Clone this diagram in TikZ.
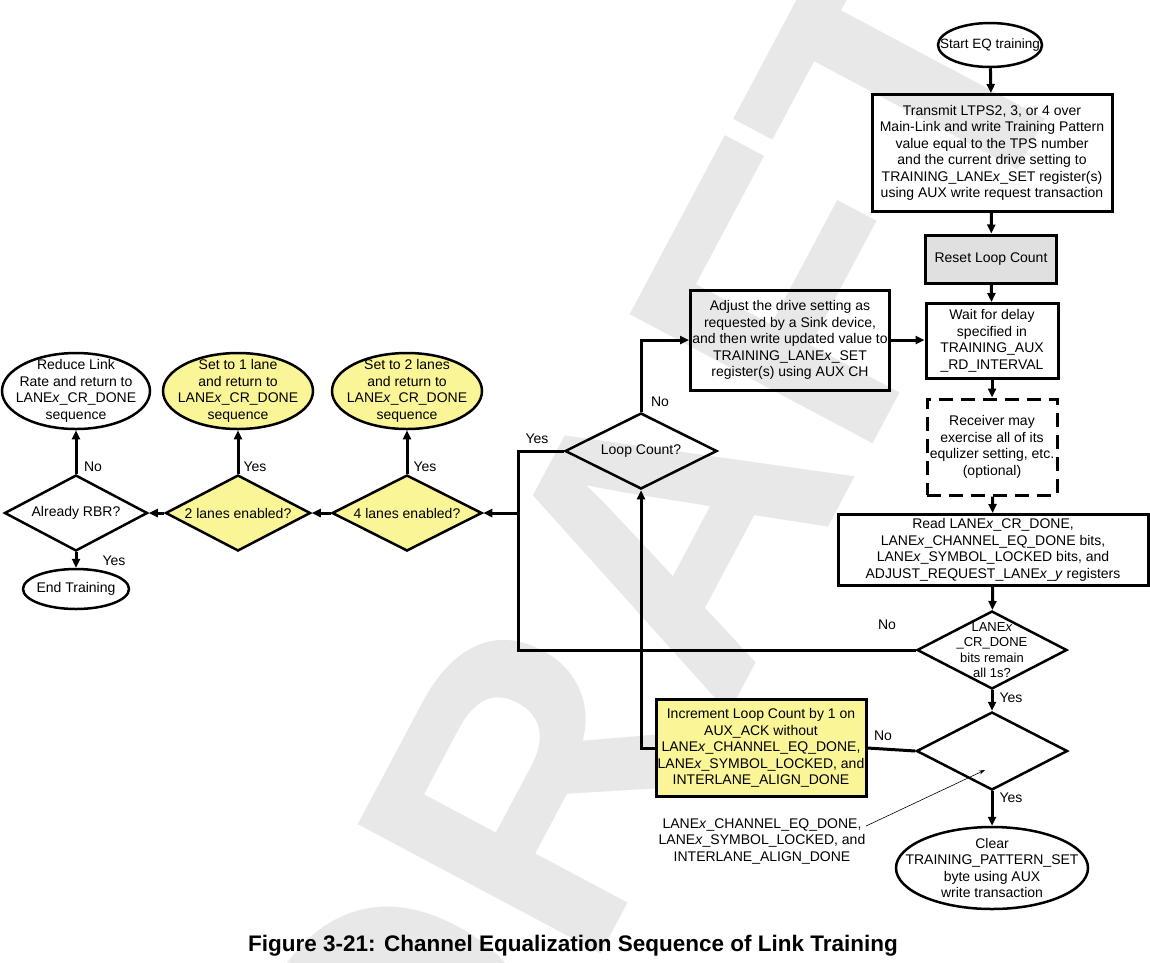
\documentclass[tikz,border=0pt]{standalone}
\usepackage{fontspec}
\setmainfont{Liberation Sans}
\usetikzlibrary{shapes.geometric,arrows.meta,calc}
\definecolor{yel}{RGB}{250,245,150}
\begin{document}
\begin{tikzpicture}[x=1pt,y=-1pt,
  every node/.style={font=\fontsize{14}{16.5}\selectfont, align=center, inner sep=0pt},
  every label/.style={font=\fontsize{14}{16.5}\selectfont, align=center, inner sep=0pt},
  ell/.style={draw, ellipse, line width=2.5pt},
  dia/.style={draw, diamond, line width=2.5pt},
  con/.style={line width=3pt, -{Triangle[length=9pt,width=8pt]}},
  ln/.style={line width=3pt},
  lab/.style={font=\fontsize{14}{16}\selectfont}]
\useasboundingbox (0,0) rectangle (1150,962);
% watermark
\node[text=black!9, rotate=62, font=\fontsize{400}{400}\bfseries\selectfont] (wm) at (650,570) {DRAFT};
% nodes
\node[ell, minimum width=104, minimum height=44, label={[font=\fontsize{13.5}{16}\selectfont]center:{Start EQ training}}] (start) at (990,45) {};
\node[draw, line width=3pt, minimum width=240, minimum height=117] (tx) at (992,153) {Transmit LTPS2, 3, or 4 over\\Main-Link and write Training Pattern\\value equal to the TPS number\\and the current drive setting to\\TRAINING\_LANE\textit{x}\_SET register(s)\\using AUX write request transaction};
\node[draw, line width=3pt, fill=black!12, minimum width=131, minimum height=48] (reset) at (991,259) {Reset Loop Count};
\node[draw, line width=3pt, minimum width=132, minimum height=75] (wait) at (992,341) {Wait for delay\\specified in\\TRAINING\_AUX\\\_RD\_INTERVAL};
\node[draw, line width=3pt, dash pattern=on 14pt off 8pt, minimum width=130, minimum height=96] (recv) at (992,447) {Receiver may\\exercise all of its\\equlizer setting, etc.\\(optional)};
\node[draw, line width=3pt, minimum width=310, minimum height=71] (read) at (993,550) {Read LANE\textit{x}\_CR\_DONE,\\LANE\textit{x}\_CHANNEL\_EQ\_DONE bits,\\LANE\textit{x}\_SYMBOL\_LOCKED bits, and\\ADJUST\_REQUEST\_LANE\textit{x}\_\textit{y} registers};
\node[dia, minimum width=150, minimum height=78, label={[font=\fontsize{13}{15.5}\selectfont]center:{LANE\textit{x}\\\_CR\_DONE\\bits remain\\all 1s?}}] (d1) at (992,650) {};
\node[dia, minimum width=151, minimum height=78] (d2) at (992,751) {};
\node[ell, minimum width=192, minimum height=82, label=center:{Clear\\TRAINING\_PATTERN\_SET\\byte using AUX\\write transaction}] (clear) at (992,868) {};
\node[draw, line width=3pt, minimum width=199, minimum height=100] (adj) at (790,340) {Adjust the drive setting as\\requested by a Sink device,\\and then write updated value to\\TRAINING\_LANE\textit{x}\_SET\\register(s) using AUX CH};
\node[dia, minimum width=152, minimum height=76, label=center:{Loop Count?}] (loop) at (641,451) {};
\node[draw, line width=3pt, fill=yel, minimum width=210, minimum height=97] (inc) at (761,748) {Increment Loop Count by 1 on\\AUX\_ACK without\\LANE\textit{x}\_CHANNEL\_EQ\_DONE,\\LANE\textit{x}\_SYMBOL\_LOCKED, and\\INTERLANE\_ALIGN\_DONE};
\node (note) at (762,841) {LANE\textit{x}\_CHANNEL\_EQ\_DONE,\\LANE\textit{x}\_SYMBOL\_LOCKED, and\\INTERLANE\_ALIGN\_DONE};
\coordinate (notetip) at (985,770);
\coordinate (notefrom) at (866,826);
\node[dia, fill=yel, minimum width=150, minimum height=76, label=center:{4 lanes enabled?}] (four) at (407,513) {};
\node[dia, fill=yel, minimum width=145, minimum height=76, label=center:{2 lanes enabled?}] (two) at (238,513) {};
\node[dia, minimum width=143, minimum height=76, label=center:{Already RBR?}] (rbr) at (76,513) {};
\node[ell, minimum width=148, minimum height=76, label=center:{Reduce Link\\Rate and return to\\LANE\textit{x}\_CR\_DONE\\sequence}] (reduce) at (76,391) {};
\node[ell, fill=yel, minimum width=150, minimum height=76, label=center:{Set to 1 lane\\and return to\\LANE\textit{x}\_CR\_DONE\\sequence}] (set1) at (238,391) {};
\node[ell, fill=yel, minimum width=150, minimum height=76, label=center:{Set to 2 lanes\\and return to\\LANE\textit{x}\_CR\_DONE\\sequence}] (set2) at (407,391) {};
\node[ell, minimum width=106, minimum height=40, label=center:{End Training}] (endt) at (76,589) {};
\node[font=\fontsize{22.5}{24}\bfseries\selectfont] (cap) at (573,946) {Figure 3-21: Channel Equalization Sequence of Link Training};
% connectors
\draw[con] (start) -- (tx);
\draw[con] (tx) -- (reset);
\draw[con] (reset) -- (wait);
\draw[con] (wait) -- (recv);
\draw[con] (recv) -- (read);
\draw[con] (read) -- (d1);
\draw[con] (d1) -- (d2);
\draw[con] (d2) -- (clear);
\coordinate (j) at (518,513);
\draw[ln] (d1.west) -| (j);
\draw[con] (loop.west) -| (j) -- (four.east);
\draw[ln] (d2.west) -- (inc.east);
\draw[con] (inc.west) -- (loop.south |- inc.west) -- (loop.south);
\draw[con] (loop.north) |- (adj.west);
\draw[con] (adj.east) -- (wait.west |- adj.east);
\draw[con] (four.west) -- (two.east);
\draw[con] (two.west) -- (rbr.east);
\draw[con] (four.north) -- (set2.south);
\draw[con] (two.north) -- (set1.south);
\draw[con] (rbr.north) -- (reduce.south);
\draw[con] (rbr.south) -- (endt.north);
\draw[-{Stealth[length=6pt,width=4pt]}, line width=0.6pt] (notefrom) -- (notetip);
% labels
\node[lab] at (1011,698) {Yes};
\node[lab] at (1011,798) {Yes};
\node[lab] at (887,625) {No};
\node[lab] at (883,736) {No};
\node[lab] at (660,402) {No};
\node[lab] at (537,439) {Yes};
\node[lab] at (425,467) {Yes};
\node[lab] at (255,467) {Yes};
\node[lab] at (93,467) {No};
\node[lab] at (114,561) {Yes};
\end{tikzpicture}
\end{document}
